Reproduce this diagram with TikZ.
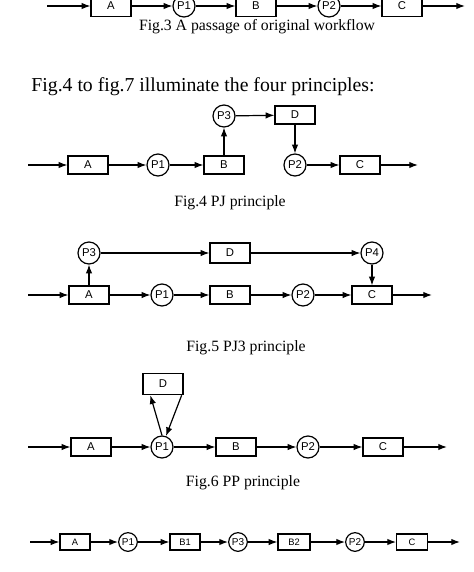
\documentclass[tikz,border=0pt]{standalone}
\usepackage{fontspec}
\setmainfont{Liberation Serif}
\setsansfont{Liberation Sans}
\usetikzlibrary{arrows.meta}

\begin{document}
\begin{tikzpicture}[x=0.75pt, y=-0.75pt, >={Latex[length=2.3mm, width=1.7mm]},
	every path/.style={line width=0.9pt},
	box/.style={draw, line width=0.9pt, minimum width=30pt, minimum height=13.5pt, inner sep=0pt, font=\sffamily\fontsize{8.5}{9}\selectfont},
	pl/.style={draw, line width=0.9pt, circle, minimum size=16.5pt, inner sep=0pt, font=\sffamily\fontsize{8.5}{9}\selectfont},
	figcap/.style={font=\fontsize{11.8}{13}\selectfont}]
	\useasboundingbox (0,0) rectangle (474,572);
	% Fig.3
	\coordinate (in3) at (47,6);
	\node[box, minimum height=16pt] (A3) at (111,6) {A};
	\node[pl] (P13) at (184,6) {P1};
	\node[box, minimum height=16pt] (B3) at (256,6) {B};
	\node[pl] (P23) at (329,6) {P2};
	\node[box, minimum height=16pt] (C3) at (402,6) {C};
	\coordinate (out3) at (465,6);
	\draw[->] (in3) -- (A3);
	\draw[->] (A3) -- (P13);
	\draw[->] (P13) -- (B3);
	\draw[->] (B3) -- (P23);
	\draw[->] (P23) -- (C3);
	\draw[->] (C3) -- (out3);
	\node[figcap] (cap3) at (257,27) {Fig.3 A passage of original workflow};
	\node[font=\fontsize{14.8}{16}\selectfont] (head) at (203,87) {Fig.4 to fig.7 illuminate the four principles:};
	% Fig.4
	\coordinate (in4) at (28,165);
	\node[box] (A4) at (88,165) {A};
	\node[pl] (P14) at (158,165) {P1};
	\node[box] (B4) at (224,165) {B};
	\node[pl] (P34) at (224,116) {P3};
	\node[box] (D4) at (295,115) {D};
	\node[pl] (P24) at (295,165) {P2};
	\node[box] (C4) at (360,165) {C};
	\coordinate (out4) at (418,165);
	\draw[->] (in4) -- (A4);
	\draw[->] (A4) -- (P14);
	\draw[->] (P14) -- (B4);
	\draw[->] (B4) -- (P34);
	\draw[->] (P34) -- (D4);
	\draw[->] (D4) -- (P24);
	\draw[->] (P24) -- (C4);
	\draw[->] (C4) -- (out4);
	\node[figcap] (cap4) at (230,203) {Fig.4 PJ principle};
	% Fig.5
	\coordinate (in5) at (28,295);
	\node[box] (A5) at (89,295) {A};
	\node[pl] (P35) at (89,253) {P3};
	\node[box, minimum height=15pt] (D5) at (230,253) {D};
	\node[pl] (P45) at (372,253) {P4};
	\node[pl] (P15) at (162,295) {P1};
	\node[box] (B5) at (230,295) {B};
	\node[pl] (P25) at (303,295) {P2};
	\node[box] (C5) at (372,295) {C};
	\coordinate (out5) at (432,295);
	\draw[->] (in5) -- (A5);
	\draw[->] (A5) -- (P35);
	\draw[->] (P35) -- (D5);
	\draw[->] (D5) -- (P45);
	\draw[->] (P45) -- (C5);
	\draw[->] (A5) -- (P15);
	\draw[->] (P15) -- (B5);
	\draw[->] (B5) -- (P25);
	\draw[->] (P25) -- (C5);
	\draw[->] (C5) -- (out5);
	\node[figcap] (cap5) at (246,348) {Fig.5 PJ3 principle};
	% Fig.6
	\coordinate (in6) at (28,447);
	\node[box] (A6) at (91,447) {A};
	\node[pl] (P16) at (162,447) {P1};
	\node[box, minimum height=16pt] (D6) at (163,384) {D};
	\node[box] (B6) at (236,447) {B};
	\node[pl] (P26) at (308,447) {P2};
	\node[box] (C6) at (383,447) {C};
	\coordinate (out6) at (447,447);
	\draw[->] (in6) -- (A6);
	\draw[->] (A6) -- (P16);
	\draw[->] (P16.north) -- ([xshift=-9.5pt]D6.south);
	\draw[->] ([xshift=14pt]D6.south) -- (P16.70);
	\draw[->] (P16) -- (B6);
	\draw[->] (B6) -- (P26);
	\draw[->] (P26) -- (C6);
	\draw[->] (C6) -- (out6);
	\node[figcap] (cap6) at (243,483) {Fig.6 PP principle};
	% Fig.7
	\coordinate (in7) at (30,542);
	\node[box, minimum width=22.5pt, minimum height=12pt, font=\sffamily\fontsize{7}{8}\selectfont] (A7) at (75,542) {A};
	\node[pl, minimum size=14pt, font=\sffamily\fontsize{7.5}{8}\selectfont] (P17) at (128,542) {P1};
	\node[box, minimum width=22.5pt, minimum height=12pt, font=\sffamily\fontsize{7}{8}\selectfont] (B17) at (185,542) {B1};
	\node[pl, minimum size=14pt, font=\sffamily\fontsize{7.5}{8}\selectfont] (P37) at (238,542) {P3};
	\node[box, minimum width=24pt, minimum height=12pt, font=\sffamily\fontsize{7}{8}\selectfont] (B27) at (294,542) {B2};
	\node[pl, minimum size=14pt, font=\sffamily\fontsize{7.5}{8}\selectfont] (P27) at (355,542) {P2};
	\node[box, minimum width=23pt, minimum height=12pt, font=\sffamily\fontsize{7}{8}\selectfont] (C7) at (412,542) {C};
	\coordinate (out7) at (460,542);
	\draw[->] (in7) -- (A7);
	\draw[->] (A7) -- (P17);
	\draw[->] (P17) -- (B17);
	\draw[->] (B17) -- (P37);
	\draw[->] (P37) -- (B27);
	\draw[->] (B27) -- (P27);
	\draw[->] (P27) -- (C7);
	\draw[->] (C7) -- (out7);
\end{tikzpicture}
\end{document}
